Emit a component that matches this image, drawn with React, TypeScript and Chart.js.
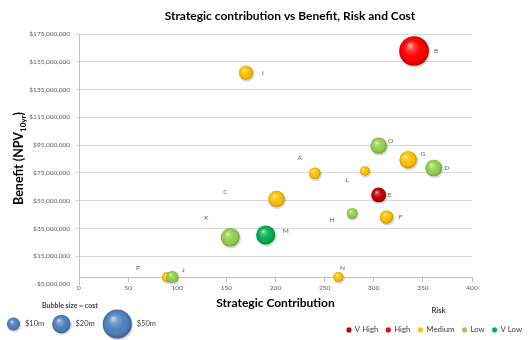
import React, { useEffect, useRef } from "react";
import { Chart, registerables } from "chart.js";

Chart.register(...registerables);

// ---------- data ----------
const projectNames = ["A", "B", "C", "D", "E", "F", "G", "H", "I", "J", "K", "L", "M", "N", "O", "P"];
const strategicContribution = [240, 341, 201, 361, 305, 313, 335, 278, 170, 95, 154, 291, 190, 264, 305, 89.5];
const benefitNPV = [
  74.7e6, 162.8e6, 56.2e6, 78.5e6, 59.1e6, 43.2e6, 84.5e6, 45.9e6,
  147.1e6, 0, 28.6e6, 76.4e6, 30.3e6, 0, 94.6e6, 0,
];
const costMillions = [8, 52, 16, 16.5, 13, 10.5, 18, 7, 12, 8.5, 20.5, 5.5, 21.5, 6, 16, 6];
const riskLevels = [
  "Medium", "High", "Medium", "Low", "V High", "Medium", "Medium", "Low",
  "Medium", "Low", "Low", "Medium", "V Low", "Medium", "Low", "Medium",
];
const riskCategories = ["V High", "High", "Medium", "Low", "V Low"];
const sizeLegendCosts = [10, 20, 50];
const xMin = 0, xMax = 400, xStep = 50;
const yMin = -5e6, yMax = 175e6, yStep = 20e6;

// ---------- styles ----------
const FONT = "Lato, 'Open Sans', sans-serif";
const riskColors: Record<string, string> = {
  "V High": "#C00000",
  High: "#FF0000",
  Medium: "#FFC000",
  Low: "#92D050",
  "V Low": "#00B050",
};
const BUBBLE_K = 2.05; // radius = k * sqrt(cost)
const labelOffsets: Record<string, [number, number]> = {
  A: [-15, -15], B: [22, 0], C: [-51, -7], D: [13, 0], E: [11, 0], F: [14, 0],
  G: [15, -6], H: [-20, 7], I: [17, 0], J: [11, -7], K: [-24, -19], L: [-18, 9],
  M: [20, -4], N: [4, -9], O: [12, -5], P: [-29, -9],
};

function shade(ctx: CanvasRenderingContext2D, x: number, y: number, r: number) {
  const g = ctx.createRadialGradient(x - r * 0.3, y - r * 0.4, 0, x, y, r * 1.05);
  g.addColorStop(0, "rgba(255,255,255,0.75)");
  g.addColorStop(0.25, "rgba(255,255,255,0.25)");
  g.addColorStop(0.55, "rgba(255,255,255,0)");
  g.addColorStop(0.8, "rgba(0,0,0,0.06)");
  g.addColorStop(1, "rgba(0,0,0,0.32)");
  ctx.beginPath();
  ctx.arc(x, y, r, 0, Math.PI * 2);
  ctx.fillStyle = g;
  ctx.fill();
}

function shadow(ctx: CanvasRenderingContext2D, x: number, y: number, r: number) {
  ctx.beginPath();
  ctx.arc(x + 0.8, y + 1.3, r + 0.6, 0, Math.PI * 2);
  ctx.fillStyle = "rgba(0,0,0,0.15)";
  ctx.fill();
}

const shadingPlugin = {
  id: "shading",
  beforeDatasetDraw(chart: any, args: any) {
    const ctx = chart.ctx;
    ctx.save();
    args.meta.data.forEach((el: any) => shadow(ctx, el.x, el.y, el.options.radius));
    ctx.restore();
  },
  afterDatasetDraw(chart: any, args: any) {
    const ctx = chart.ctx;
    ctx.save();
    args.meta.data.forEach((el: any) => shade(ctx, el.x, el.y, el.options.radius));
    ctx.restore();
  },
};

const decorPlugin = {
  id: "decor",
  afterDatasetsDraw(chart: any) {
    const ctx = chart.ctx;
    ctx.save();
    ctx.font = `6.5px ${FONT}`;
    ctx.fillStyle = "#595959";
    ctx.textAlign = "center";
    ctx.textBaseline = "middle";
    chart.data.datasets.forEach((ds: any, di: number) => {
      const meta = chart.getDatasetMeta(di);
      meta.data.forEach((el: any, i: number) => {
        const name = ds.data[i].name;
        const off = labelOffsets[name] || [12, 0];
        ctx.fillText(name, el.x + off[0], el.y + off[1]);
      });
    });
    ctx.restore();
  },
  afterDraw(chart: any) {
    const ctx = chart.ctx;
    ctx.save();
    // Main title
    ctx.fillStyle = "#000";
    ctx.font = `bold 12px ${FONT}`;
    ctx.textAlign = "center";
    ctx.textBaseline = "middle";
    ctx.fillText("Strategic contribution vs Benefit, Risk and Cost", 290, 16);

    // Y axis title with subscript
    ctx.translate(19, 158.5);
    ctx.rotate(-Math.PI / 2);
    const big = `bold 12.5px ${FONT}`;
    const small = `bold 8px ${FONT}`;
    ctx.textAlign = "left";
    ctx.textBaseline = "middle";
    ctx.font = big;
    const w1 = ctx.measureText("Benefit (NPV").width;
    const w3 = ctx.measureText(")").width;
    ctx.font = small;
    const w2 = ctx.measureText("10yr").width;
    let cx = -(w1 + w2 + w3) / 2;
    ctx.font = big;
    ctx.fillText("Benefit (NPV", cx, 0);
    cx += w1;
    ctx.font = small;
    ctx.fillText("10yr", cx, 4);
    cx += w2;
    ctx.font = big;
    ctx.fillText(")", cx, 0);
    ctx.setTransform(1, 0, 0, 1, 0, 0);

    // Bubble size legend
    ctx.fillStyle = "#404040";
    ctx.font = `bold 7px ${FONT}`;
    ctx.textAlign = "left";
    ctx.fillText("Bubble size = cost", 42, 306);
    ctx.font = `7.5px ${FONT}`;
    let cur = 7;
    sizeLegendCosts.forEach((c) => {
      const r = BUBBLE_K * Math.sqrt(c);
      const bx = cur + r;
      const by = 324;
      shadow(ctx, bx, by, r);
      ctx.beginPath();
      ctx.arc(bx, by, r, 0, Math.PI * 2);
      ctx.fillStyle = "#4F81BD";
      ctx.fill();
      shade(ctx, bx, by, r);
      const label = `$${c}m`;
      ctx.fillStyle = "#404040";
      ctx.fillText(label, bx + r + 5, by);
      cur = bx + r + 5 + ctx.measureText(label).width + 8;
    });
    ctx.restore();
  },
};

function fmtMoney(v: number) {
  const s = "$" + Math.abs(v).toLocaleString("en-US");
  return v < 0 ? "-" + s : s;
}

export default function App() {
  const ref = useRef<HTMLCanvasElement | null>(null);
  useEffect(() => {
    if (!ref.current) return;
    const datasets = riskCategories.map((cat) => {
      const data: any[] = [];
      projectNames.forEach((name, i) => {
        if (riskLevels[i] === cat) {
          data.push({
            x: strategicContribution[i],
            y: benefitNPV[i],
            r: BUBBLE_K * Math.sqrt(costMillions[i]),
            name,
          });
        }
      });
      return {
        label: cat,
        data,
        backgroundColor: riskColors[cat],
        borderWidth: 0,
        order: cat === "Low" ? 0 : 1,
      };
    });
    const chart = new Chart(ref.current, {
      type: "bubble",
      data: { datasets },
      plugins: [shadingPlugin, decorPlugin],
      options: {
        responsive: false,
        animation: false,
        events: [],
        layout: { padding: { top: 34, left: 0, right: 0, bottom: 0 } },
        scales: {
          x: {
            type: "linear",
            position: { y: 0 } as any,
            min: xMin,
            max: xMax,
            ticks: { stepSize: xStep, color: "#595959", font: { family: FONT, size: 6.5 }, padding: 3, maxRotation: 0 },
            grid: { drawOnChartArea: false, drawTicks: true, tickLength: 4, color: "#bfbfbf" },
            border: { display: true, color: "#bfbfbf" },
            title: {
              display: true,
              text: "Strategic Contribution",
              color: "#000",
              font: { family: FONT, size: 12, weight: "bold" },
              padding: { top: 1, bottom: 0 },
            },
          },
          y: {
            type: "linear",
            position: "left",
            min: yMin,
            max: yMax,
            ticks: {
              stepSize: yStep,
              color: "#595959",
              font: { family: FONT, size: 6.5 },
              padding: 5,
              callback: (v: any) => fmtMoney(Number(v)),
            },
            grid: {
              color: (c: any) => (c.tick && c.tick.value === yMin ? "rgba(0,0,0,0)" : "#d9d9d9"),
              tickLength: 4,
            },
            border: { display: true, color: "#bfbfbf" },
            afterFit: (s: any) => {
              s.width = 79;
            },
          },
          yRight: {
            type: "linear",
            axis: "y",
            position: "right",
            min: 0,
            max: 1,
            ticks: { display: false },
            grid: { display: false },
            border: { display: false },
            afterFit: (s: any) => {
              s.width = 58;
            },
          } as any,
        },
        plugins: {
          title: { display: false },
          tooltip: { enabled: false },
          legend: {
            position: "bottom",
            align: "end",
            maxHeight: 56,
            title: {
              display: true,
              text: "Risk",
              position: "center",
              color: "#404040",
              font: { family: FONT, size: 7.5, weight: "bold" },
              padding: { top: 23, bottom: 2 },
            },
            labels: {
              usePointStyle: true,
              pointStyle: "circle",
              boxWidth: 4,
              boxHeight: 3.6,
              padding: 8,
              color: "#404040",
              font: { family: FONT, size: 7.8 },
              sort: (a: any, b: any) => a.datasetIndex - b.datasetIndex,
            },
          } as any,
        },
      },
    });
    return () => chart.destroy();
  }, []);
  return (
    <div style={{ position: "fixed", left: 0, top: 0, width: 530, height: 340, background: "#fff" }}>
      <canvas ref={ref} width={530} height={340} />
    </div>
  );
}
